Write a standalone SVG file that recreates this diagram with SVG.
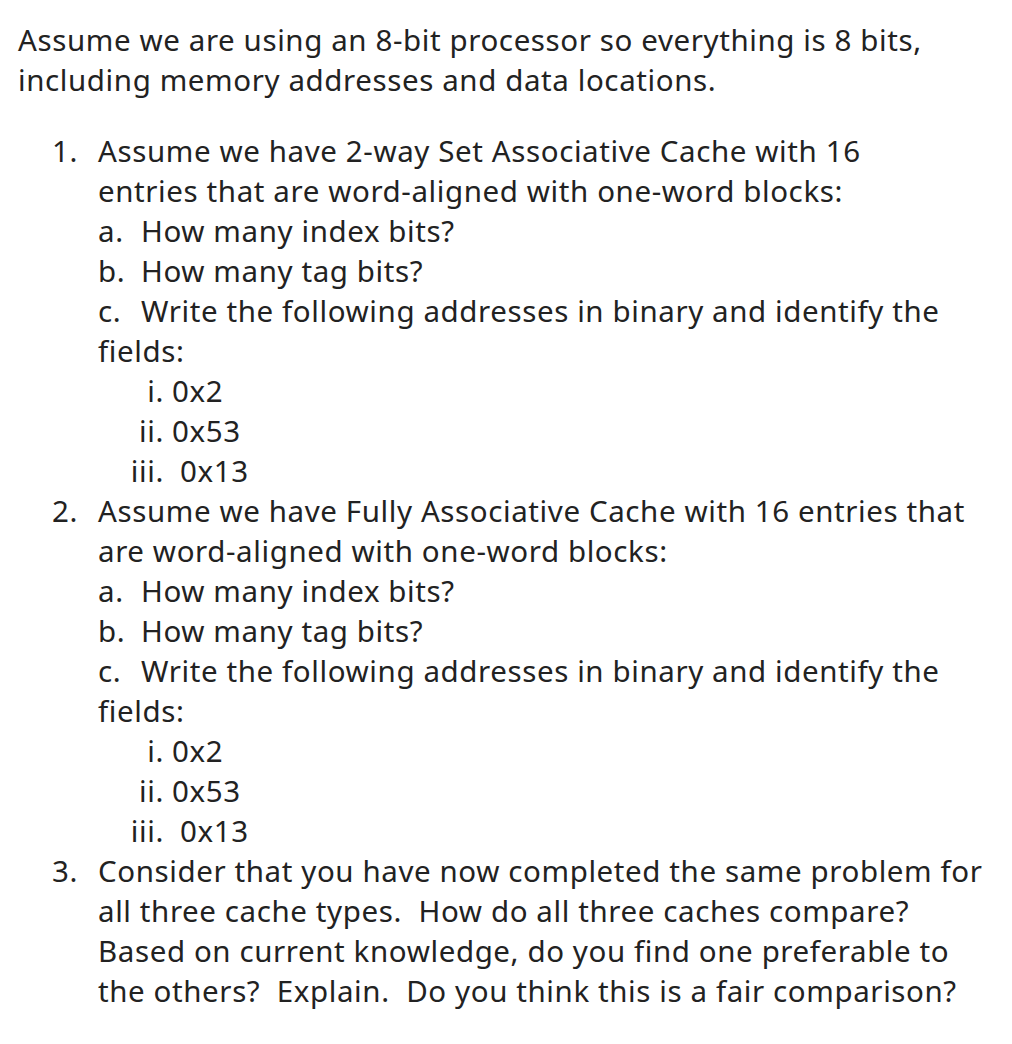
<svg xmlns="http://www.w3.org/2000/svg" width="1012" height="1044" viewBox="0 0 1012 1044">
<style>text{font-family:"Noto Sans","Liberation Sans",sans-serif;font-size:29.5px;letter-spacing:0.6px;fill:#222}.e{text-anchor:end}</style>
<rect width="1012" height="1044" fill="#fff"/>
<g id="text">
<text x="18" y="51">Assume we are using an 8-bit processor so everything is 8 bits,</text>
<text x="18" y="91">including memory addresses and data locations.</text>
<text x="52" y="162">1.</text><text x="98" y="162">Assume we have 2-way Set Associative Cache with 16</text>
<text x="98" y="202">entries that are word-aligned with one-word blocks:</text>
<text x="98" y="242">a.</text><text x="141" y="242">How many index bits?</text>
<text x="98" y="282">b.</text><text x="141" y="282">How many tag bits?</text>
<text x="98" y="322">c.</text><text x="141" y="322">Write the following addresses in binary and identify the</text>
<text x="98" y="362">fields:</text>
<text class="e" x="164" y="402">i.</text><text x="172" y="402">0x2</text>
<text class="e" x="164" y="442">ii.</text><text x="172" y="442">0x53</text>
<text class="e" x="164" y="482">iii.</text><text x="180" y="482">0x13</text>
<text x="52" y="522">2.</text><text x="98" y="522">Assume we have Fully Associative Cache with 16 entries that</text>
<text x="98" y="562">are word-aligned with one-word blocks:</text>
<text x="98" y="602">a.</text><text x="141" y="602">How many index bits?</text>
<text x="98" y="642">b.</text><text x="141" y="642">How many tag bits?</text>
<text x="98" y="682">c.</text><text x="141" y="682">Write the following addresses in binary and identify the</text>
<text x="98" y="722">fields:</text>
<text class="e" x="164" y="762">i.</text><text x="172" y="762">0x2</text>
<text class="e" x="164" y="802">ii.</text><text x="172" y="802">0x53</text>
<text class="e" x="164" y="842">iii.</text><text x="180" y="842">0x13</text>
<text x="52" y="882">3.</text><text x="98" y="882">Consider that you have now completed the same problem for</text>
<text x="98" y="922">all three cache types.&#160; How do all three caches compare?</text>
<text x="98" y="962">Based on current knowledge, do you find one preferable to</text>
<text x="98" y="1002">the others?&#160; Explain.&#160; Do you think this is a fair comparison?</text>
</g>
</svg>
